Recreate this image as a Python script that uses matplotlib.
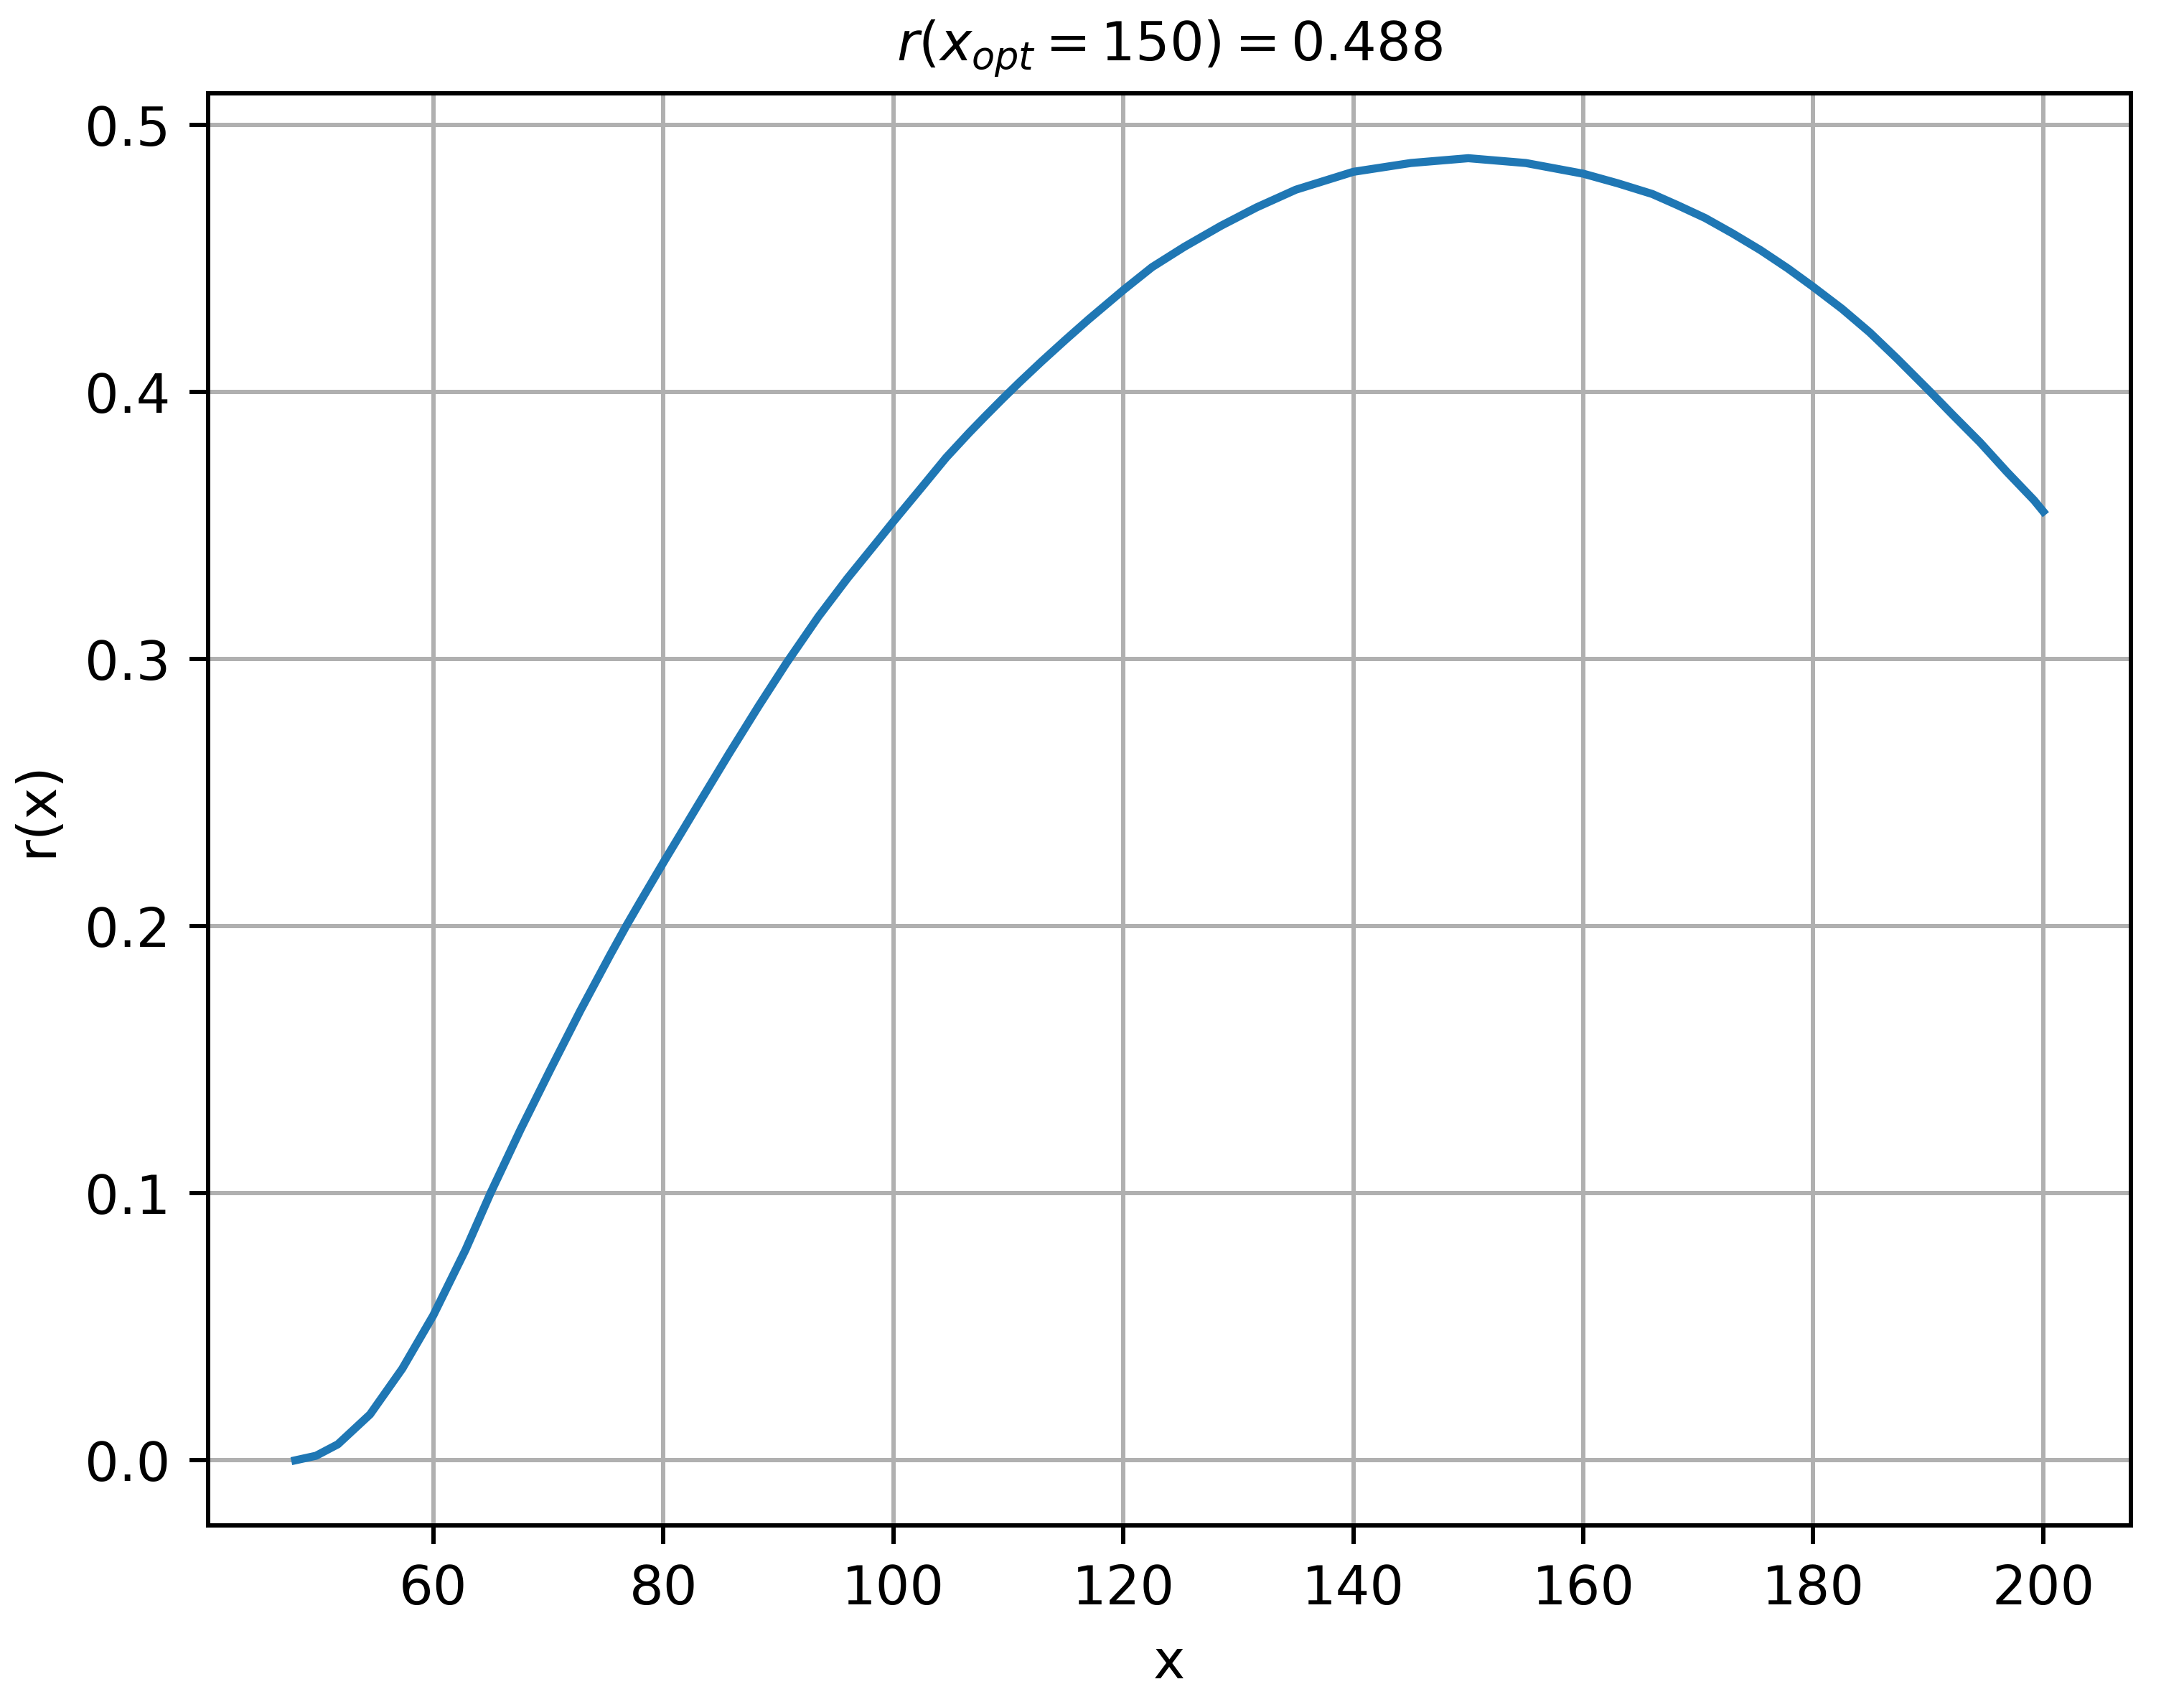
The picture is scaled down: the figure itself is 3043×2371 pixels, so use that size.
import matplotlib
matplotlib.use("Agg")
import matplotlib.pyplot as plt

# points
x = [48.0, 49.8, 51.7, 54.5, 57.3, 60.0, 62.8, 65.0, 67.6, 70.2, 72.8, 75.4,
     76.8, 78.0, 80.0, 83.1, 85.7, 88.3, 90.7, 93.5, 96.0, 98.6, 100.0, 102.5,
     104.6, 106.6, 108.0, 109.5, 111.0, 112.9, 115.0, 117.0, 120.0, 122.5,
     125.3, 128.5, 131.6, 135.0, 140.0, 145.0, 150.0, 155.0, 160.0, 163.0,
     166.0, 168.2, 170.6, 173.0, 175.4, 177.8, 180.0, 182.5, 184.9, 187.3,
     190.2, 192.1, 194.5, 196.8, 199.2, 200.0]
r = [0.0, 0.0017, 0.006, 0.0172, 0.0343, 0.0543, 0.0788, 0.1003, 0.1240,
     0.1465, 0.1685, 0.1894, 0.2003, 0.2092, 0.2238, 0.2460, 0.2645, 0.2825,
     0.2985, 0.3160, 0.3302, 0.3440, 0.3515, 0.3645, 0.3755, 0.3848, 0.391,
     0.3975, 0.4038, 0.4115, 0.4197, 0.4273, 0.4382, 0.4468, 0.4544, 0.4623,
     0.4692, 0.4758, 0.4825, 0.4858, 0.4876, 0.4858, 0.4818, 0.4782, 0.4742,
     0.470, 0.4652, 0.4594, 0.4532, 0.4463, 0.4394, 0.4312, 0.4224, 0.4125,
     0.400, 0.3916, 0.3812, 0.3703, 0.3595, 0.3553]

W, H, dpi = 3043, 2371, 540
fig = plt.figure(figsize=(W / dpi, H / dpi), dpi=dpi)
ax = fig.add_axes([289.7 / W, (H - 2125) / H, 2679 / W, 1995.3 / H])
ax.plot(x, r)
ax.grid(True)
ax.set_xlabel('x')
ax.set_ylabel('r(x)')
ax.set_title(r'$r(x_{opt}=150)=0.488$', fontsize=10)
fig.savefig('out.png', dpi=dpi)
